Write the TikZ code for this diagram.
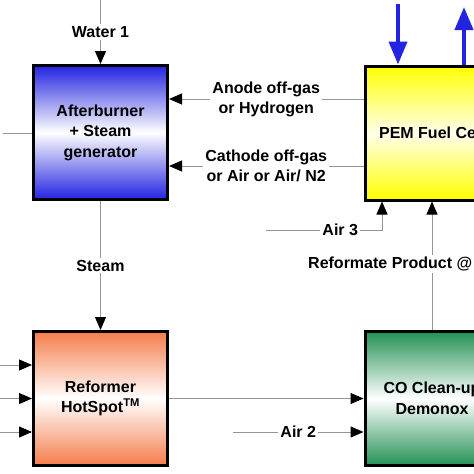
\documentclass[tikz,border=0pt]{standalone}
\usepackage{fontspec}
\setmainfont{Liberation Sans}
\usetikzlibrary{arrows.meta}
\definecolor{ColorLam}{RGB}{35,35,225}
\definecolor{ColorCam}{RGB}{245,125,75}
\definecolor{ColorVang}{RGB}{255,255,0}
\definecolor{ColorLuc}{RGB}{35,145,85}
\definecolor{ColorDay}{RGB}{150,150,150}

\begin{document}
\begin{tikzpicture}[x=1pt,y=-1pt,
    khoi/.style={draw=black, line width=3pt, minimum width=134pt, minimum height=134pt,
        align=center, text=black, font=\bfseries\fontsize{16}{20.5}\selectfont},
    day/.style={draw=ColorDay, line width=1pt, -{Triangle[length=13pt,width=11pt,color=black]}},
    nhan/.style={fill=white, inner sep=2pt, align=center, text=black,
        font=\bfseries\fontsize{16}{20}\selectfont},
    mui/.style={draw=ColorLam, line width=4pt, -{Triangle[length=23pt,width=18pt]}}]
        \useasboundingbox (0,0) rectangle (474,474);
        \clip (0,0) rectangle (474,474);
        %Khối
        \node[khoi, top color=ColorLam, bottom color=ColorLam, middle color=white] (ab) at (100.5,132.5) {Afterburner\\+ Steam\\generator};
        \node[khoi, top color=ColorVang, bottom color=ColorVang, middle color=ColorVang!8] (pem) at (432,133) {PEM Fuel Cell};
        \node[khoi, top color=ColorCam, bottom color=ColorCam, middle color=white] (ref) at (100.5,398.5) {Reformer\\HotSpot\textsuperscript{TM}};
        \node[khoi, top color=ColorLuc, bottom color=ColorLuc, middle color=white] (co) at (432,398.5) {CO Clean-up\\Demonox};
        %Điểm
        \coordinate (nuoc) at (100.5,0);
        \coordinate (trai) at (3,133);
        \coordinate (anode) at (0,99);
        \coordinate (cathode) at (0,166);
        \coordinate (air3) at (266,230);
        \coordinate (goc3) at (382,230);
        \coordinate (air2) at (233,432);
        \coordinate (h2vao) at (398,4);
        \coordinate (h2ra) at (464,7);
        %Dòng
        \draw[day] (nuoc) -- node[nhan]{Water 1} (ab);
        \draw[draw=ColorDay, line width=1pt] (ab.west |- trai) -- (trai);
        \draw[day] (pem.west |- anode) -- node[nhan]{Anode off-gas\\or Hydrogen} (ab.east |- anode);
        \draw[day] (pem.west |- cathode) -- node[nhan]{Cathode off-gas\\or Air or Air/ N2} (ab.east |- cathode);
        \draw[day] (ab) -- node[nhan]{Steam} (ref);
        \draw[day] (air3) -| node[nhan, pos=0.32]{Air 3} (pem.south -| goc3);
        \draw[day] (co) -- (pem);
        \node[nhan, anchor=west] (sp) at (306,264) {Reformate Product @};
        \foreach \y [count=\i] in {365,398.5,432} {
            \coordinate (vao\i) at (-5,\y);
            \draw[day] (vao\i) -- (ref.west |- vao\i);
        }
        \draw[day] (ref) -- (co);
        \draw[day] (air2) -- node[nhan]{Air 2} (co.west |- air2);
        %Hydro
        \draw[mui] (h2vao) -- (pem.north -| h2vao);
        \draw[mui] (pem.north -| h2ra) -- (h2ra);
    \end{tikzpicture}
\end{document}
